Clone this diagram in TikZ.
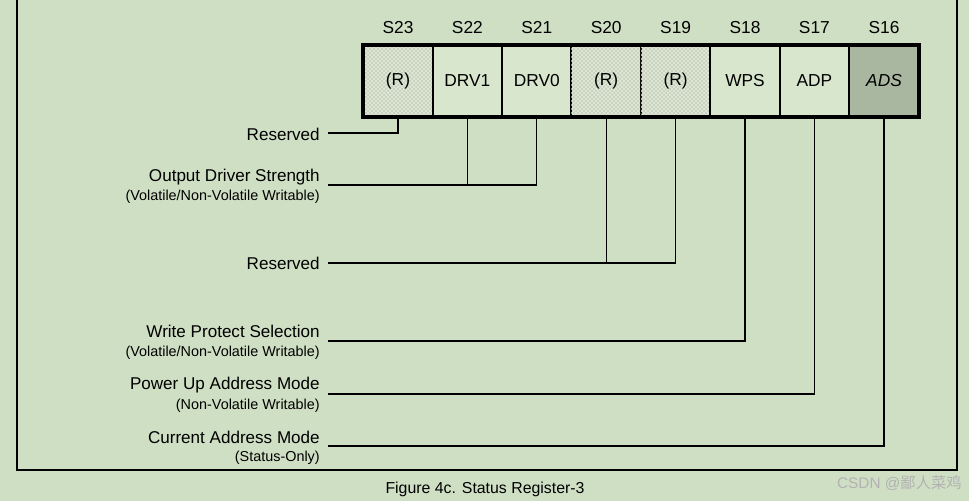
\documentclass[tikz,border=0pt]{standalone}
\usepackage{fontspec}
\setmainfont{Liberation Sans}
\newfontfamily\cjk{Noto Sans CJK SC}
\usetikzlibrary{patterns}
\definecolor{bg}{HTML}{CFDFC4}
\definecolor{cellc}{HTML}{D8E6CD}
\definecolor{resc}{HTML}{C6D3BA}
\definecolor{adsc}{HTML}{A9B7A0}
\tikzset{
  cell/.style={draw=black, line width=1.5pt, minimum width=69.5*0.75pt, minimum height=72*0.75pt, inner sep=0, font=\fontsize{13}{15}\selectfont, fill=cellc},
  rcell/.style={cell, fill=resc, postaction={pattern=crosshatch, pattern color=white!55!resc}},
  bitlab/.style={font=\fontsize{13}{15}\selectfont},
  lab/.style={anchor=east, font=\fontsize{12.8}{14}\selectfont, inner sep=0},
  sub/.style={anchor=east, font=\fontsize{10.8}{12}\selectfont, inner sep=0},
  wire/.style={line width=1pt}
}
\begin{document}
\begin{tikzpicture}[x=0.75pt,y=-0.75pt]
\fill[bg] (0,0) rectangle (969,501);
\useasboundingbox (0,0) rectangle (969,501);
\draw[line width=1.2pt] (17,-5) rectangle (957,470);
% cells
\foreach \n/\t/\s/\k [count=\i from 0] in {c23/(R)/S23/rcell, c22/DRV1/S22/cell, c21/DRV0/S21/cell, c20/(R)/S20/rcell, c19/(R)/S19/rcell, c18/WPS/S18/cell, c17/ADP/S17/cell}{
  \node[\k] (\n) at (398+69.4*\i,81) {\t};
  \node[bitlab] (l\n) at (398+69.4*\i,28) {\s};
}
\node[cell, fill=adsc] (c16) at (884,81) {\textit{ADS}};
\node[bitlab] (lc16) at (884,28) {S16};
\draw[line width=2.6pt] (363,45) rectangle (919,117);
% labels
\node[lab] (r1) at (320,134) {Reserved};
\node[lab] (ods) at (320,177) {Output Driver Strength};
\node[sub] (ods2) at (320,197) {(Volatile/Non-Volatile Writable)};
\node[lab] (r2) at (320,263) {Reserved};
\node[lab] (wps) at (320,331) {Write Protect Selection};
\node[sub] (wps2) at (320,353) {(Volatile/Non-Volatile Writable)};
\node[lab] (adp) at (320,385) {Power Up Address Mode};
\node[sub] (adp2) at (320,406) {(Non-Volatile Writable)};
\node[lab] (ads) at (320,437) {Current Address Mode};
\node[sub] (ads2) at (320,458) {(Status-Only)};
% wires
\coordinate (w1) at (328,133);
\coordinate (w2) at (328,185);
\coordinate (w3) at (328,263);
\coordinate (w4) at (328,341);
\coordinate (w5) at (328,394);
\coordinate (w6) at (328,446);
\draw[wire] (w1) -| (c23.south);
\draw[wire] (w2) -| (c21.south);
\draw[wire] (c22.south) -- (c22.south |- w2);
\draw[wire] (w3) -| (c19.south);
\draw[wire] (c20.south) -- (c20.south |- w3);
\draw[wire] (w4) -| (c18.south);
\draw[wire] (w5) -| (c17.south);
\draw[wire] (w6) -| (c16.south);
\node[font=\fontsize{11.9}{13}\selectfont] (cap) at (485,489) {Figure 4c. Status Register-3};
\node[anchor=east, text=gray!60, font=\fontsize{11.5}{13}\selectfont, inner sep=0] (wm) at (962,483) {CSDN @{\cjk 鄙人菜鸡}};
\end{tikzpicture}
\end{document}
